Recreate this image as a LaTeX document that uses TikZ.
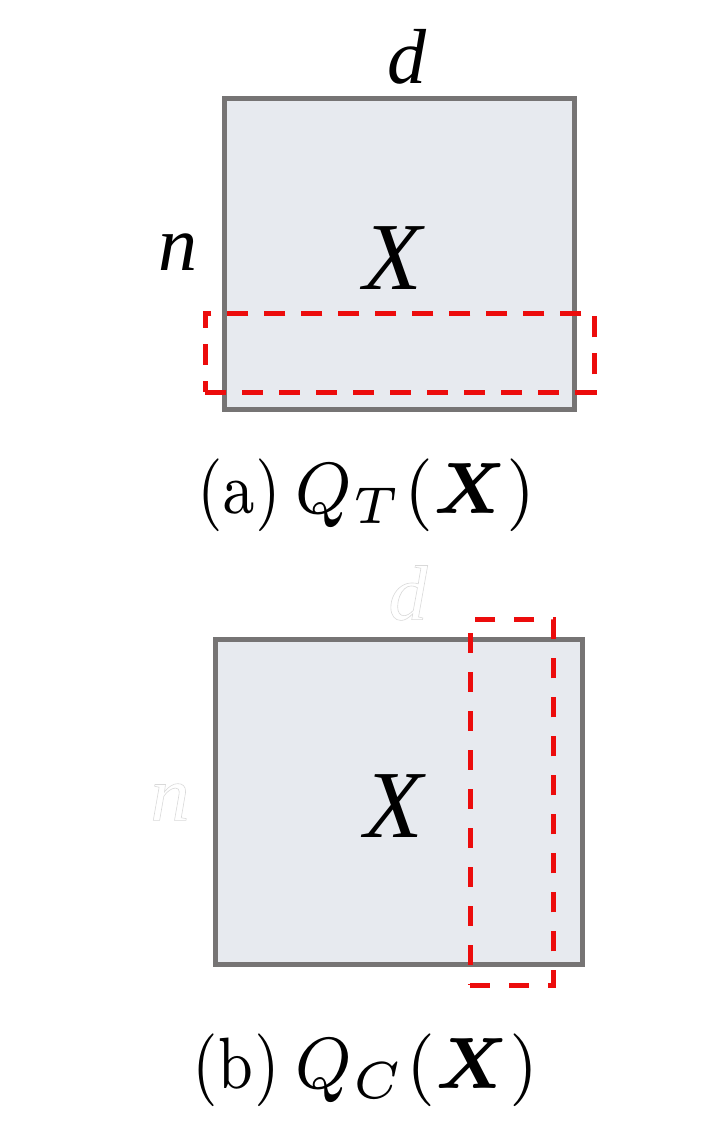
\RequirePackage{fix-cm}
\documentclass[tikz,border=0pt]{standalone}
\usepackage{amsmath}
\usepackage{bm}
\usepackage{graphicx}
\usepackage{fontspec}
\newfontfamily\labfont{Liberation Serif}
\definecolor{boxgray}{RGB}{118,116,116}
\definecolor{boxfill}{RGB}{231,234,239}
\definecolor{selred}{RGB}{236,12,12}
\newcommand{\captag}[1]{\scalebox{8.2}[10.4]{\fontsize{7}{8}\selectfont #1}}
\newcommand{\capmath}[1]{\scalebox{9.3}[10.4]{\fontsize{7}{8}\selectfont #1}}
\tikzset{
  matbox/.style={draw=boxgray, fill=boxfill, line width=4.5pt},
  selbox/.style={draw=selred, line width=4.8pt, dash pattern=on 21pt off 16pt},
  lab/.style={font=\labfont\itshape\fontsize{78}{90}\selectfont, inner sep=0pt},
  biglab/.style={font=\labfont\itshape\fontsize{96}{110}\selectfont, inner sep=0pt},
  captext/.style={inner sep=0pt, anchor=base west},
}
\begin{document}
\begin{tikzpicture}[x=1pt,y=-1pt]
\useasboundingbox (0,0) rectangle (712,1128);
% (a)
\node[matbox, minimum width=350pt, minimum height=311pt, anchor=north west] (ma) at (222,96) {};
\node[selbox, minimum width=389pt, minimum height=79pt, anchor=north west] (sa) at (203,311) {};
\node[lab] (da) at (407,57) {d};
\node[lab] (na) at (178,252) {n};
\node[biglab] (xa) at (393,258) {X};
\node[captext] (ta) at (197,513) {\captag{(a)}};
\node[captext] (ca) at (294,513) {\capmath{$Q_T(\boldsymbol{X})$}};
% (b)
\node[matbox, minimum width=367pt, minimum height=325pt, anchor=north west] (mb) at (213,637) {};
\node[selbox, dash pattern=on 20pt off 19pt, minimum width=83pt, minimum height=366pt, anchor=north west] (sb) at (468,617) {};
\node[lab] (db) at (408,593) {\special{pdf:literal 1 Tr 0.6 w 0.85 G}d\special{pdf:literal 0 Tr}};
\node[lab] (nb) at (170,802) {\special{pdf:literal 1 Tr 0.6 w 0.85 G}n\special{pdf:literal 0 Tr}};
\node[biglab] (xb) at (394,806) {X};
\node[captext] (tb) at (192,1088) {\captag{(b)}};
\node[captext] (cb) at (294,1088) {\capmath{$Q_C(\boldsymbol{X})$}};
\end{tikzpicture}
\end{document}
